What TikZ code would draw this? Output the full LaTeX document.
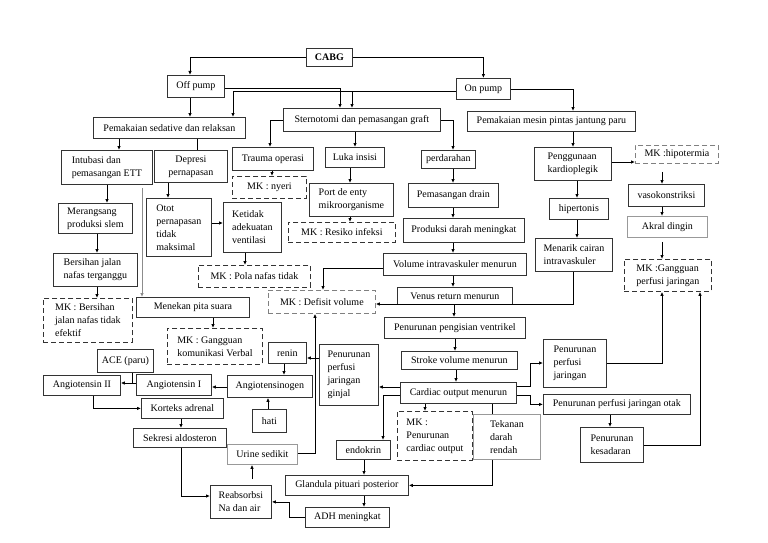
\documentclass[tikz,border=0pt]{standalone}
\usepackage{fontspec}
\setmainfont{Liberation Serif}
\usetikzlibrary{arrows.meta}
\newcommand{\mybox}[7]{\node[#1,anchor=north west,minimum width={(#5-#3)*1pt},minimum height={(#6-#4)*1pt}] (#2) at (#3,#4) {#7};}
\begin{document}
\begin{tikzpicture}[x=1pt,y=-1pt,
 box/.style={draw=black!80,line width=0.8pt,inner sep=1pt,align=center,font=\fontsize{10}{13}\selectfont},
 lbox/.style={box,align=left},
 gbox/.style={box,draw=black!40},
 glbox/.style={gbox,align=left},
 mk/.style={box,dash pattern=on 5pt off 3pt,align=left},
 mkg/.style={mk,draw=black!50},
 arr/.style={line width=0.8pt,-{Latex[length=4pt,width=3.5pt]}},
 ln/.style={line width=0.8pt}]
\useasboundingbox (0,0) rectangle (768,543);
% nodes
\mybox{box}{cabg}{306}{48}{352}{66}{\textbf{CABG}}
\mybox{box}{offp}{167}{75}{224}{97}{Off pump}
\mybox{box}{onp}{456}{78}{510}{99}{On pump}
\mybox{box}{sed}{93}{117}{245}{138}{Pemakaian sedative dan relaksan}
\mybox{box}{stern}{283}{108}{440}{131}{Sternotomi dan pemasangan graft}
\mybox{box}{mesin}{467}{111}{635}{131}{Pemakaian mesin pintas jantung paru}
\mybox{lbox}{intu}{61}{150}{152}{184}{Intubasi dan\\pemasangan ETT}
\mybox{box}{dep}{154}{150}{227}{182}{Depresi\\pernapasan}
\mybox{box}{trauma}{232}{147}{313}{170}{Trauma operasi}
\mybox{box}{luka}{325}{147}{384}{167}{Luka insisi}
\mybox{box}{perd}{421}{150}{475}{168}{perdarahan}
\mybox{lbox}{kar}{534}{147}{611}{180}{Penggunaan\\kardioplegik}
\mybox{mkg}{hip}{635}{145}{718}{163}{MK :hipotermia}
\mybox{mk}{nyeri}{232}{176}{306}{198}{MK : nyeri}
\mybox{lbox}{port}{309}{183}{393}{216}{Port de enty\\mikroorganisme}
\mybox{box}{drain}{408}{183}{498}{207}{Pemasangan drain}
\mybox{box}{vaso}{628}{184}{704}{206}{vasokonstriksi}
\mybox{lbox}{meran}{58}{203}{132}{233}{Merangsang\\produksi slem}
\mybox{lbox}{otot}{146}{198}{211}{256}{Otot\\pernapasan\\tidak\\maksimal}
\mybox{lbox}{ket}{223}{202}{281}{252}{Ketidak\\adekuatan\\ventilasi}
\mybox{mk}{infeksi}{288}{222}{395}{242}{MK : Resiko infeksi}
\mybox{box}{prod}{403}{218}{524}{242}{Produksi darah meningkat}
\mybox{box}{hipt}{549}{198}{608}{219}{hipertonis}
\mybox{gbox}{akral}{627}{216}{707}{237}{Akral dingin}
\mybox{lbox}{bers}{53}{253}{137}{286}{Bersihan jalan\\nafas terganggu}
\mybox{box}{vol}{383}{253}{526}{275}{Volume intravaskuler menurun}
\mybox{lbox}{menarik}{535}{238}{612}{271}{Menarik cairan\\intravaskuler}
\mybox{mk}{pola}{198}{265}{310}{287}{MK : Pola nafas tidak}
\mybox{mk}{mkp}{624}{259}{711}{291}{MK :Gangguan\\perfusi jaringan}
\mybox{mkg}{def}{268}{290}{375}{313}{MK : Defisit volume}
\mybox{box}{venus}{397}{287}{512}{304}{Venus return menurun}
\mybox{mk}{mkb}{43}{298}{132}{342}{MK : Bersihan\\jalan nafas tidak\\efektif}
\mybox{box}{menekan}{136}{297}{249}{317}{Menekan pita suara}
\mybox{box}{isi}{384}{317}{525}{338}{Penurunan pengisian ventrikel}
\mybox{mk}{kom}{167}{328}{262}{364}{MK : Gangguan\\komunikasi Verbal}
\mybox{box}{renin}{268}{342}{306}{363}{renin}
\mybox{lbox}{gin}{319}{344}{378}{405}{Penurunan\\perfusi\\jaringan\\ginjal}
\mybox{box}{stroke}{401}{351}{517}{369}{Stroke volume menurun}
\mybox{lbox}{perf}{543}{339}{606}{387}{Penurunan\\perfusi\\jaringan}
\mybox{box}{ace}{97}{349}{153}{372}{ACE (paru)}
\mybox{box}{ang2}{43}{375}{120}{395}{Angiotensin II}
\mybox{box}{ang1}{136}{374}{211}{395}{Angiotensin I}
\mybox{box}{agen}{227}{375}{312}{397}{Angiotensinogen}
\mybox{box}{co}{400}{382}{516}{403}{Cardiac output menurun}
\mybox{box}{otak}{543}{394}{690}{414}{Penurunan perfusi jaringan otak}
\mybox{box}{kor}{141}{398}{223}{418}{Korteks adrenal}
\mybox{box}{hati}{252}{409}{286}{432}{hati}
\mybox{mk}{mkco}{397}{411}{472}{460}{MK :\\Penurunan\\cardiac output}
\mybox{glbox}{tek}{473}{414}{540}{459}{Tekanan\\darah\\rendah}
\mybox{lbox}{kes}{580}{427}{643}{462}{Penurunan\\kesadaran}
\mybox{box}{sek}{133}{428}{226}{447}{Sekresi aldosteron}
\mybox{box}{endo}{336}{440}{390}{459}{endokrin}
\mybox{gbox}{urine}{227}{444}{297}{464}{Urine sedikit}
\mybox{box}{gla}{285}{475}{408}{495}{Glandula pituari posterior}
\mybox{lbox}{reab}{210}{485}{271}{518}{Reabsorbsi\\Na dan air}
\mybox{box}{adh}{305}{507}{389}{527}{ADH meningkat}
% connectors
\draw[arr] (cabg.west) -| (offp.north -| 190,0);
\draw[arr] (cabg.east) -| (onp.north);
\draw[arr] (offp.south -| 190,0) -- (sed.north -| 190,0);
\draw[arr] (offp.east |- 0,88) -| (stern.north -| 340,0);
\draw[arr] (onp.west |- 0,91) -| (stern.north -| 352,0);
\draw[arr] (onp.west |- 0,91) -| (sed.north -| 233,0);
\draw[arr] (onp.east) -| (mesin.north -| 573,0);
\draw[arr] (sed.south -| 119,0) -- (intu.north -| 119,0);
\draw[ln] (sed.south -| 197,0) -- (dep.north -| 197,0);
\draw[arr] (stern.west) -| (trauma.north -| 270,0);
\draw[arr] (stern.south -| 355,0) -- (luka.north -| 355,0);
\draw[arr] (stern.east) -| (perd.north -| 453,0);
\draw[arr] (mesin.south -| 573,0) -- (kar.north -| 573,0);
\draw[arr] (kar.east |- 0,162) -- (hip.west |- 0,162);
\draw[arr] (hip.south -| 662,0) ++(0,8) -- (vaso.north -| 662,0);
\draw[arr] (vaso.south -| 662,0) -- (akral.north -| 662,0);
\draw[arr] (akral.south -| 662,0) ++(0,4) -- (mkp.north -| 662,0);
\draw[arr] (kar.south -| 577,0) -- (hipt.north -| 577,0);
\draw[arr] (hipt.south -| 577,0) -- (menarik.north -| 577,0);
\draw[arr] (menarik.south -| 573,0) |- (def.east |- 0,304);
\draw[arr] (intu.south -| 107,0) -- (meran.north -| 107,0);
\draw[arr] (meran.south -| 97,0) -- (bers.north -| 97,0);
\draw[arr] (bers.south -| 97,0) -- (mkb.north -| 97,0);
\draw[arr,draw=black!45] (intu.south -| 142,0) ++(0,3) -- (menekan.north -| 142,0);
\draw[arr] (menekan.south -| 213,0) -- (kom.north -| 213,0);
\draw[arr] (dep.south -| 168,0) -- (otot.north -| 168,0);
\draw[arr] (otot.east |- 0,223) -- (ket.west |- 0,223);
\draw[arr] (ket.south -| 245,0) -- (pola.north -| 245,0);
\draw[arr] (trauma.south -| 272,0) -- (nyeri.north -| 272,0);
\draw[arr] (luka.south -| 350,0) -- (port.north -| 350,0);
\draw[arr] (port.south -| 350,0) -- (infeksi.north -| 350,0);
\draw[arr] (perd.south -| 453,0) -- (drain.north -| 453,0);
\draw[arr] (drain.south -| 453,0) -- (prod.north -| 453,0);
\draw[arr] (prod.south -| 453,0) -- (vol.north -| 453,0);
\draw[arr] (vol.south -| 453,0) -- (venus.north -| 453,0);
\draw[arr] (venus.south -| 454,0) -- (isi.north -| 454,0);
\draw[arr] (isi.south -| 455,0) -- (stroke.north -| 455,0);
\draw[arr] (stroke.south -| 456,0) -- (co.north -| 456,0);
\draw[arr] (vol.west |- 0,268) -| (def.north -| 323,0);
\draw[arr] (co.east |- 0,386) -- ++(14,0) |- (perf.west |- 0,363);
\draw[arr] (co.east |- 0,395) -- ++(14,0) |- (otak.west);
\draw[arr] (otak.south -| 610,0) -- (kes.north -| 610,0);
\draw[arr] (perf.east) -| (mkp.south -| 662,0);
\draw[arr] (kes.east) -| (mkp.south -| 700,0);
\draw[arr] (co.west |- 0,387) -- (gin.east |- 0,387);
\draw[arr] (co.west |- 0,395) -| (endo.north -| 383,0);
\draw[arr] (co.south -| 425,0) -- (mkco.north -| 425,0);
\draw[ln] (co.south -| 492,0) -- (tek.north -| 492,0);
\draw[arr] (tek.south -| 492,0) |- (gla.east);
\draw[arr] (endo.south -| 364,0) -- (gla.north -| 364,0);
\draw[arr] (gla.south -| 364,0) -- (adh.north -| 364,0);
\draw[arr] (adh.west) -- ++(-16,0) |- (reab.east);
\draw[arr] (sek.south -| 181,0) |- (reab.west |- 0,496);
\draw[arr] (kor.south -| 181,0) -- (sek.north -| 181,0);
\draw[arr] (ang2.south -| 93,0) |- (kor.west);
\draw[arr] (ang1.west |- 0,383) -- (ang2.east |- 0,383);
\draw[ln] (ace.south -| 132,0) -- ++(0,11);
\draw[arr] (agen.west |- 0,387) -- (ang1.east |- 0,387);
\draw[arr] (renin.south -| 284,0) -- (agen.north -| 284,0);
\draw[arr] (hati.north -| 268,0) -- (agen.south -| 268,0);
\draw[arr] (gin.west |- 0,358) -- (renin.east |- 0,358);
\draw[arr] (urine.east |- 0,453) -| (def.south -| 315,0);
\draw[arr] (reab.north -| 252,0) ++(0,-6) -- (urine.south -| 252,0);
\end{tikzpicture}
\end{document}
